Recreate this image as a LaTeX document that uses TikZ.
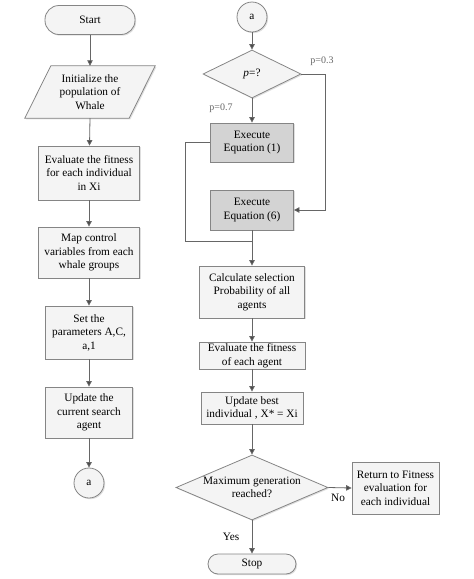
\documentclass[tikz,border=0pt]{standalone}
\usepackage{fontspec}
\setmainfont{Liberation Serif}
\usetikzlibrary{arrows.meta,shapes.geometric,shadows,backgrounds}
\definecolor{linec}{HTML}{666666}
\definecolor{boxline}{HTML}{858585}
\definecolor{boxfill}{HTML}{F4F4F4}
\definecolor{exfill}{HTML}{D3D3D3}
\definecolor{tipc}{HTML}{4A4A4A}
\definecolor{labc}{HTML}{666666}
\tikzset{
  shad/.style={drop shadow={opacity=0.25,shadow xshift=1.2pt,shadow yshift=-1.2pt}},
  txt/.style={font=\fontsize{11.3}{13.5}\selectfont,align=center,text=black},
  procbox/.style={txt,draw=boxline,fill=boxfill,line width=0.8pt,inner sep=1pt,shad},
  exbox/.style={procbox,fill=exfill},
  termbox/.style={procbox,rounded corners=10pt},
  conn/.style={draw=boxline,fill=boxfill,circle,line width=0.8pt,minimum size=30pt,inner sep=0pt,txt,shad},
  decbox/.style={draw=boxline,fill=boxfill,diamond,line width=0.8pt,inner sep=0pt,shad},
  flow/.style={draw=linec,line width=0.8pt,-{Triangle[length=5.5pt,width=5.5pt,fill=tipc]}},
  plain/.style={draw=linec,line width=0.8pt},
  smalllab/.style={font=\fontsize{10}{12}\selectfont,text=labc,inner sep=1pt}
}
\begin{document}
\begin{tikzpicture}[x=1pt,y=-1pt]
\path[use as bounding box] (0,0) rectangle (474,579);
% left column
\node[termbox,minimum width=90pt,minimum height=29pt,rounded corners=14pt] (start) at (90,20) {Start};
\node[txt,minimum width=104pt,minimum height=52pt,inner sep=0pt] (init) at (90,92) {Initialize the\\population of\\Whale};
\begin{pgfonlayer}{background}
\draw[draw=boxline,fill=boxfill,line width=0.8pt,shad]
  ([xshift=13pt]init.north west) -- ([xshift=13pt]init.north east) --
  ([xshift=-13pt]init.south east) -- ([xshift=-13pt]init.south west) -- cycle;
\end{pgfonlayer}
\node[procbox,minimum width=101pt,minimum height=54pt] (eval) at (89,173) {Evaluate the fitness\\for each individual\\in Xi};
\node[procbox,minimum width=101pt,minimum height=51pt] (map) at (89,252.5) {Map control\\variables from each\\whale groups};
\node[procbox,minimum width=87pt,minimum height=53pt] (set) at (89,332.5) {Set the\\parameters A,C,\\a,1};
\node[procbox,minimum width=87pt,minimum height=51pt] (upd) at (89,412.5) {Update the\\current search\\agent};
\node[conn] (a1) at (89,483) {a};
% right column
\node[conn] (a2) at (252,17) {a};
\node[decbox,minimum width=98pt,minimum height=48pt] (d1) at (252,74) {};
\node[txt] (d1t) at (252,74) {\textit{p}=?};
\node[exbox,minimum width=83pt,minimum height=39pt] (ex1) at (252,142.5) {Execute\\Equation (1)};
\node[exbox,minimum width=83pt,minimum height=40pt] (ex6) at (252,210) {Execute\\Equation (6)};
\node[procbox,minimum width=105pt,minimum height=52pt] (calc) at (252,292) {Calculate selection\\Probability of all\\agents};
\node[procbox,minimum width=106pt,minimum height=27pt] (evag) at (252,355.5) {Evaluate the fitness\\of each agent};
\node[procbox,minimum width=102pt,minimum height=32pt] (best) at (252,408) {Update best\\individual , X* = Xi};
\node[decbox,minimum width=152pt,minimum height=65pt] (d2) at (252,487.5) {};
\node[txt] (d2t) at (252,487.5) {Maximum generation\\reached?};
\node[procbox,minimum width=87pt,minimum height=52pt] (ret) at (395.5,488) {Return to Fitness\\evaluation for\\each individual};
\node[termbox,minimum width=88pt,minimum height=20pt] (stop) at (252,564) {Stop};
\coordinate (r1) at (325,74);
\coordinate (r2) at (325,210);
\coordinate (l1) at (185,142.5);
\coordinate (l2) at (185,241);
\coordinate (jn) at (252,241);
% connectors left
\draw[flow] (start) -- (init.north);
\draw[flow] (init.south) -- (eval);
\draw[flow] (eval) -- (map);
\draw[flow] (map) -- (set);
\draw[flow] (set) -- (upd);
\draw[flow] (upd) -- (a1);
% connectors right
\draw[flow] (a2) -- (d1.north);
\draw[flow] (d1.south) -- (ex1.north);
\draw[flow] (d1.east) -- (r1) -- (r2) -- (ex6.east);
\draw[plain] (ex1.west) -- (l1) -- (l2) -- (jn);
\draw[plain] (ex6.south) -- (jn);
\draw[flow] (jn) -- (calc.north);
\draw[flow] (calc) -- (evag);
\draw[flow] (evag) -- (best);
\draw[flow] (best) -- (d2.north);
\draw[flow] (d2.east) -- (ret.west);
\draw[flow] (d2.south) -- (stop.north);
% labels
\node[smalllab] (p3) at (322,61) {p=0.3};
\node[smalllab] (p7) at (221,108) {p=0.7};
\node[txt,inner sep=1pt] (no) at (338,498) {No};
\node[txt,inner sep=1pt] (yes) at (231,537) {Yes};
\end{tikzpicture}
\end{document}
